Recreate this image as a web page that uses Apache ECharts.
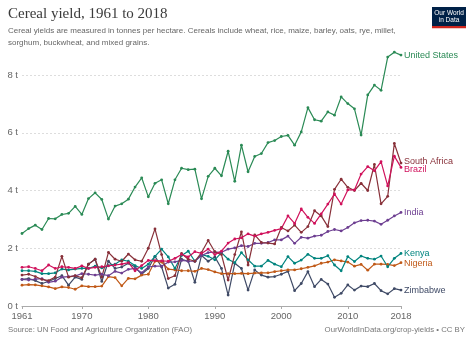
<!DOCTYPE html>
<html>
<head>
<meta charset="utf-8">
<script src="https://cdn.jsdelivr.net/npm/echarts@6/dist/echarts.min.js"></script>
<style>
  html, body { margin: 0; padding: 0; background: #fff; }
  #chart { width: 474px; height: 344px; }
</style>
</head>
<body>
<div id="chart"></div>
<script>
// Cereal yield in tonnes per hectare, one value per year 1961..2018
const firstYear = 1961;
const lastYear = 2018;
const xTickYears = [1961, 1970, 1980, 1990, 2000, 2010, 2018];
const yTickValues = [0, 2, 4, 6, 8];

const unitedStates = [2.51, 2.68, 2.80, 2.65, 3.03, 3.02, 3.17, 3.21, 3.45, 3.17,
  3.72, 3.92, 3.69, 3.01, 3.46, 3.54, 3.70, 4.12, 4.44, 3.78,
  4.25, 4.37, 3.54, 4.37, 4.77, 4.72, 4.74, 3.71, 4.49, 4.77,
  4.51, 5.36, 4.32, 5.57, 4.65, 5.18, 5.28, 5.66, 5.73, 5.87,
  5.91, 5.57, 6.03, 6.87, 6.45, 6.40, 6.72, 6.61, 7.24, 7.01,
  6.83, 5.92, 7.31, 7.65, 7.47, 8.62, 8.79, 8.69];

const southAfrica = [1.07, 1.10, 1.02, 0.92, 0.88, 1.00, 1.72, 1.00, 1.05, 0.98,
  1.45, 1.62, 1.00, 1.86, 1.62, 1.55, 1.80, 1.60, 1.55, 2.00,
  2.67, 1.78, 0.95, 1.05, 1.82, 1.62, 1.55, 1.85, 2.27, 1.88,
  1.78, 0.90, 1.78, 2.57, 1.42, 2.46, 2.20, 2.18, 2.15, 2.72,
  2.60, 2.80, 2.55, 2.75, 3.30, 3.12, 2.75, 4.04, 4.39, 4.11,
  4.00, 4.25, 4.00, 4.90, 3.54, 3.80, 5.63, 4.95];

const brazil = [1.34, 1.36, 1.30, 1.22, 1.42, 1.30, 1.36, 1.34, 1.30, 1.39,
  1.30, 1.34, 1.36, 1.39, 1.42, 1.45, 1.50, 1.22, 1.40, 1.58,
  1.57, 1.56, 1.55, 1.65, 1.78, 1.70, 1.88, 1.82, 1.97, 1.78,
  1.90, 2.18, 2.32, 2.36, 2.50, 2.42, 2.50, 2.55, 2.62, 2.68,
  3.12, 2.86, 3.36, 3.07, 2.86, 3.19, 3.53, 3.88, 3.53, 4.02,
  4.02, 4.57, 4.83, 4.68, 5.00, 4.16, 5.19, 4.80];

const india = [0.92, 0.90, 0.93, 0.95, 0.82, 0.86, 1.00, 1.02, 1.04, 1.12,
  1.10, 1.07, 1.10, 1.05, 1.20, 1.14, 1.27, 1.30, 1.15, 1.35,
  1.38, 1.38, 1.52, 1.53, 1.58, 1.55, 1.55, 1.75, 1.85, 1.87,
  1.86, 1.97, 2.01, 2.09, 2.06, 2.17, 2.17, 2.20, 2.29, 2.29,
  2.42, 2.17, 2.38, 2.35, 2.42, 2.45, 2.58, 2.65, 2.60, 2.72,
  2.88, 2.96, 2.97, 2.94, 2.83, 2.97, 3.12, 3.24];

const kenya = [1.22, 1.22, 1.20, 1.12, 1.12, 1.15, 1.28, 1.25, 1.28, 1.30,
  1.30, 1.38, 1.32, 1.40, 1.45, 1.60, 1.55, 1.40, 1.30, 1.45,
  1.72, 1.97, 1.70, 1.30, 1.75, 1.90, 1.55, 1.78, 1.72, 1.60,
  1.85, 1.62, 1.50, 1.85, 1.60, 1.38, 1.38, 1.58, 1.45, 1.36,
  1.71, 1.48, 1.59, 1.79, 1.65, 1.65, 1.74, 1.42, 1.22, 1.71,
  1.54, 1.73, 1.65, 1.62, 1.73, 1.36, 1.65, 1.82];

const nigeria = [0.72, 0.74, 0.73, 0.70, 0.66, 0.60, 0.66, 0.64, 0.58, 0.70,
  0.67, 0.67, 0.69, 1.02, 0.98, 0.70, 0.96, 0.94, 1.07, 1.10,
  1.55, 1.52, 1.28, 1.25, 1.22, 1.22, 1.20, 1.30, 1.26, 1.18,
  1.12, 1.12, 1.12, 1.13, 1.12, 1.14, 1.15, 1.15, 1.19, 1.22,
  1.25, 1.25, 1.29, 1.34, 1.39, 1.48, 1.52, 1.60, 1.56, 1.52,
  1.38, 1.44, 1.24, 1.45, 1.45, 1.44, 1.40, 1.50];

const zimbabwe = [0.92, 0.95, 0.88, 0.78, 0.85, 0.95, 1.05, 0.72, 1.00, 0.92,
  1.45, 1.62, 0.85, 1.55, 1.30, 1.35, 1.48, 1.35, 1.10, 1.30,
  1.72, 1.35, 0.62, 0.75, 1.62, 1.55, 0.82, 1.75, 1.55, 1.70,
  1.30, 0.38, 1.48, 1.30, 0.55, 1.25, 1.07, 1.00, 1.02, 1.10,
  1.20, 0.53, 0.78, 1.19, 0.67, 0.92, 0.76, 0.30, 0.44, 0.73,
  0.55, 0.69, 0.67, 0.78, 0.53, 0.42, 0.60, 0.55];

const countries = [
  { name: 'Zimbabwe', values: zimbabwe, color: '#3f4a66', offset: [0, 0] },
  { name: 'Nigeria', values: nigeria, color: '#c05917', offset: [0, 1] },
  { name: 'Kenya', values: kenya, color: '#00847e', offset: [0, 0] },
  { name: 'India', values: india, color: '#6d3e91', offset: [0, 0] },
  { name: 'South Africa', values: southAfrica, color: '#883039', offset: [0, -2] },
  { name: 'Brazil', values: brazil, color: '#d0115b', offset: [0, 2] },
  { name: 'United States', values: unitedStates, color: '#2a8a55', offset: [0, 0] }
];

const sans = 'Liberation Sans, Arial, sans-serif';

const series = countries.map(c => ({
  name: c.name,
  type: 'line',
  clip: false,
  data: c.values.map((v, i) => [firstYear + i, v]),
  symbol: 'circle',
  symbolSize: 2.8,
  lineStyle: { width: 1.2, color: c.color },
  itemStyle: { color: c.color },
  emphasis: { disabled: true },
  animation: false,
  endLabel: {
    show: true,
    formatter: c.name,
    color: c.color,
    fontFamily: sans,
    fontSize: 9,
    distance: 3,
    offset: c.offset
  }
}));

const chart = echarts.init(document.getElementById('chart'), null, { renderer: 'canvas' });
chart.setOption({
  animation: false,
  grid: { left: 22, right: 73, top: 75, bottom: 38 },
  xAxis: {
    type: 'value',
    min: firstYear,
    max: lastYear,
    axisLine: { show: true, lineStyle: { color: '#aaa', width: 1 } },
    axisTick: { show: true, length: 3, lineStyle: { color: '#aaa' }, customValues: xTickYears },
    axisLabel: {
      customValues: xTickYears,
      color: '#666', fontFamily: sans, fontSize: 9.5, margin: 5,
      formatter: v => String(v)
    },
    splitLine: { show: false }
  },
  yAxis: {
    type: 'value',
    min: 0,
    max: 8,
    interval: 2,
    axisLine: { show: false },
    axisTick: { show: false },
    axisLabel: {
      color: '#666', fontFamily: sans, fontSize: 9.5, margin: 4,
      formatter: v => (yTickValues.includes(v) ? v + ' t' : '')
    },
    splitLine: { show: true, lineStyle: { color: '#ddd', type: [2, 2], width: 1 } }
  },
  series: series,
  graphic: [
    {
      type: 'text', left: 8, top: 7,
      style: { text: 'Cereal yield, 1961 to 2018', font: '15px "Liberation Serif", "DejaVu Serif", serif', fill: '#3a3a3a' }
    },
    {
      type: 'text', left: 8, top: 24.5,
      style: {
        text: 'Cereal yields are measured in tonnes per hectare. Cereals include wheat, rice, maize, barley, oats, rye, millet,\nsorghum, buckwheat, and mixed grains.',
        font: '8px ' + sans, fill: '#666', lineHeight: 12
      }
    },
    {
      type: 'group', left: 432, top: 7,
      children: [
        { type: 'rect', shape: { x: 0, y: 0, width: 34, height: 21 }, style: { fill: '#002147' } },
        { type: 'rect', shape: { x: 0, y: 19, width: 34, height: 2.2 }, style: { fill: '#ce261e' } },
        { type: 'text', style: { x: 17, y: 6, text: 'Our World', align: 'center', verticalAlign: 'middle', font: '6.5px ' + sans, fill: '#fff' } },
        { type: 'text', style: { x: 17, y: 13.5, text: 'in Data', align: 'center', verticalAlign: 'middle', font: '6.5px ' + sans, fill: '#fff' } }
      ]
    },
    {
      type: 'text', left: 8, top: 326,
      style: { text: 'Source: UN Food and Agriculture Organization (FAO)', font: '7.8px ' + sans, fill: '#777' }
    },
    {
      type: 'text', right: 9, top: 326,
      style: { text: 'OurWorldInData.org/crop-yields • CC BY', font: '7.8px ' + sans, fill: '#777' }
    }
  ]
});
</script>
</body>
</html>
